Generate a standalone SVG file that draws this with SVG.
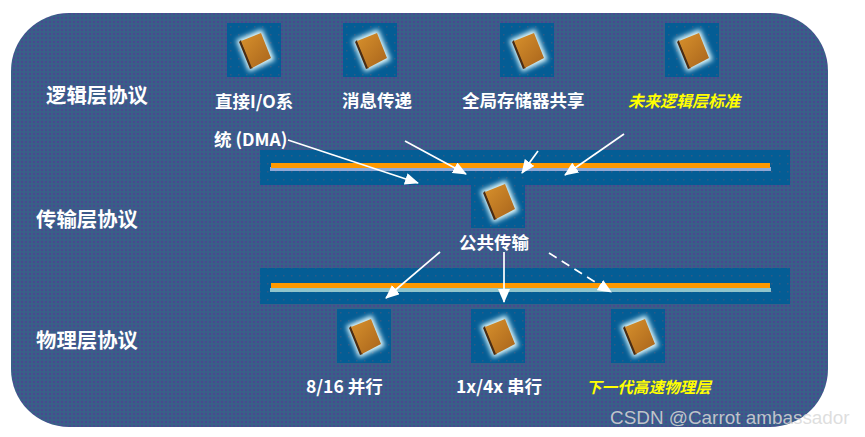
<svg xmlns="http://www.w3.org/2000/svg" width="865" height="437" viewBox="0 0 865 437">
<style>
text{font-family:"Noto Sans CJK SC","Liberation Sans",sans-serif;font-weight:700;fill:#fff}
.layer{font-size:20.4px}
.lab{font-size:17.5px}
.fut{font-size:16px;fill:#ff0;font-style:italic}
.wm{font-family:"Liberation Sans",sans-serif;font-weight:400;font-size:18.9px;fill:#d8d8d8;fill-opacity:.85}
.conn{stroke:#fff;stroke-width:1.7;fill:none}
.tile{fill:url(#tiledots)}
.orange{fill:#f90}
</style>
<defs>
<pattern id="bgdots" width="4" height="4" patternUnits="userSpaceOnUse"><rect width="4" height="4" fill="#395f88"/><rect x="1" y="1" width="2" height="2" fill="#4a4890"/></pattern>
<pattern id="tiledots" width="8" height="8" patternUnits="userSpaceOnUse"><rect width="8" height="8" fill="#045d95"/><rect x="3" y="3" width="1.5" height="1.5" fill="#2f5a86"/></pattern>
<linearGradient id="book" x1="0" y1="0" x2="1" y2="1"><stop offset="0" stop-color="#d8912c"/><stop offset="1" stop-color="#a8641c"/></linearGradient>
<filter id="glow" x="-40%" y="-40%" width="180%" height="180%"><feGaussianBlur stdDeviation="2.5"/></filter>
<marker id="ahb" markerWidth="14" markerHeight="12" refX="13" refY="6" orient="auto" markerUnits="userSpaceOnUse"><path d="M0 0L14 6L0 12Z" fill="#fff"/></marker>
<g id="icon">
<rect class="tile" width="54" height="54"/>
<path d="M9 17L35 6L48 37L22 49Z" fill="#dffaff" filter="url(#glow)"/>
<path d="M12 19L14 17L26 45L23 46Z" fill="#4a2c14"/>
<path d="M14 18L34 10L44 35L25 45Z" fill="url(#book)"/>
</g>
</defs>
<rect width="865" height="437" fill="#fff"/>
<rect id="panel" x="11" y="13" width="817" height="414" rx="58" ry="58" fill="url(#bgdots)"/>
<g id="bar-top"><rect class="tile" x="260" y="150" width="530" height="35"/><rect x="270" y="167" width="501" height="4" fill="#8fa8d8"/><rect class="orange" x="271" y="163" width="499" height="5"/></g>
<g id="bar-bottom"><rect class="tile" x="260" y="268" width="530" height="36"/><rect x="270" y="288" width="501" height="4" fill="#8fc4cc"/><rect class="orange" x="271" y="283" width="499" height="5"/></g>
<g id="node-dma"><use href="#icon" x="227" y="23"/><text class="lab" x="215" y="108">直接I/O系</text><text class="lab" x="214" y="146">统 (DMA)</text></g>
<g id="node-msg"><use href="#icon" x="343" y="23"/><text class="lab" x="342" y="107">消息传递</text></g>
<g id="node-mem"><use href="#icon" x="500" y="23"/><text class="lab" x="462" y="107">全局存储器共享</text></g>
<g id="node-future"><use href="#icon" x="665" y="23"/><text class="fut" x="628" y="107">未来逻辑层标准</text></g>
<g id="node-transport"><use href="#icon" x="471" y="174"/><text class="lab" x="459" y="249">公共传输</text></g>
<g id="node-par"><use href="#icon" x="337" y="309"/><text class="lab" x="306" y="393">8/16 并行</text></g>
<g id="node-ser"><use href="#icon" x="471" y="309"/><text class="lab" x="456" y="393">1x/4x 串行</text></g>
<g id="node-next"><use href="#icon" x="611" y="309"/><text class="fut" x="586" y="393" style="font-size:15.6px">下一代高速物理层</text></g>
<g id="layer-labels"><text class="layer" x="46" y="103">逻辑层协议</text><text class="layer" x="36" y="227">传输层协议</text><text class="layer" x="36" y="348">物理层协议</text></g>
<g id="connectors">
<path class="conn" marker-end="url(#ahb)" d="M288 140L418 183"/>
<path class="conn" marker-end="url(#ahb)" d="M405 141L466 174"/>
<path class="conn" marker-end="url(#ahb)" d="M538 151L522 173"/>
<path class="conn" marker-end="url(#ahb)" d="M624 134L565 175"/>
<path class="conn" marker-end="url(#ahb)" d="M440 252L386 298"/>
<path class="conn" marker-end="url(#ahb)" d="M504 252V302"/>
<path class="conn" marker-end="url(#ahb)" stroke-dasharray="9 6" d="M549 253L611 292"/>
</g>
<text class="wm" x="610" y="424">CSDN @Carrot ambassador</text>
</svg>
